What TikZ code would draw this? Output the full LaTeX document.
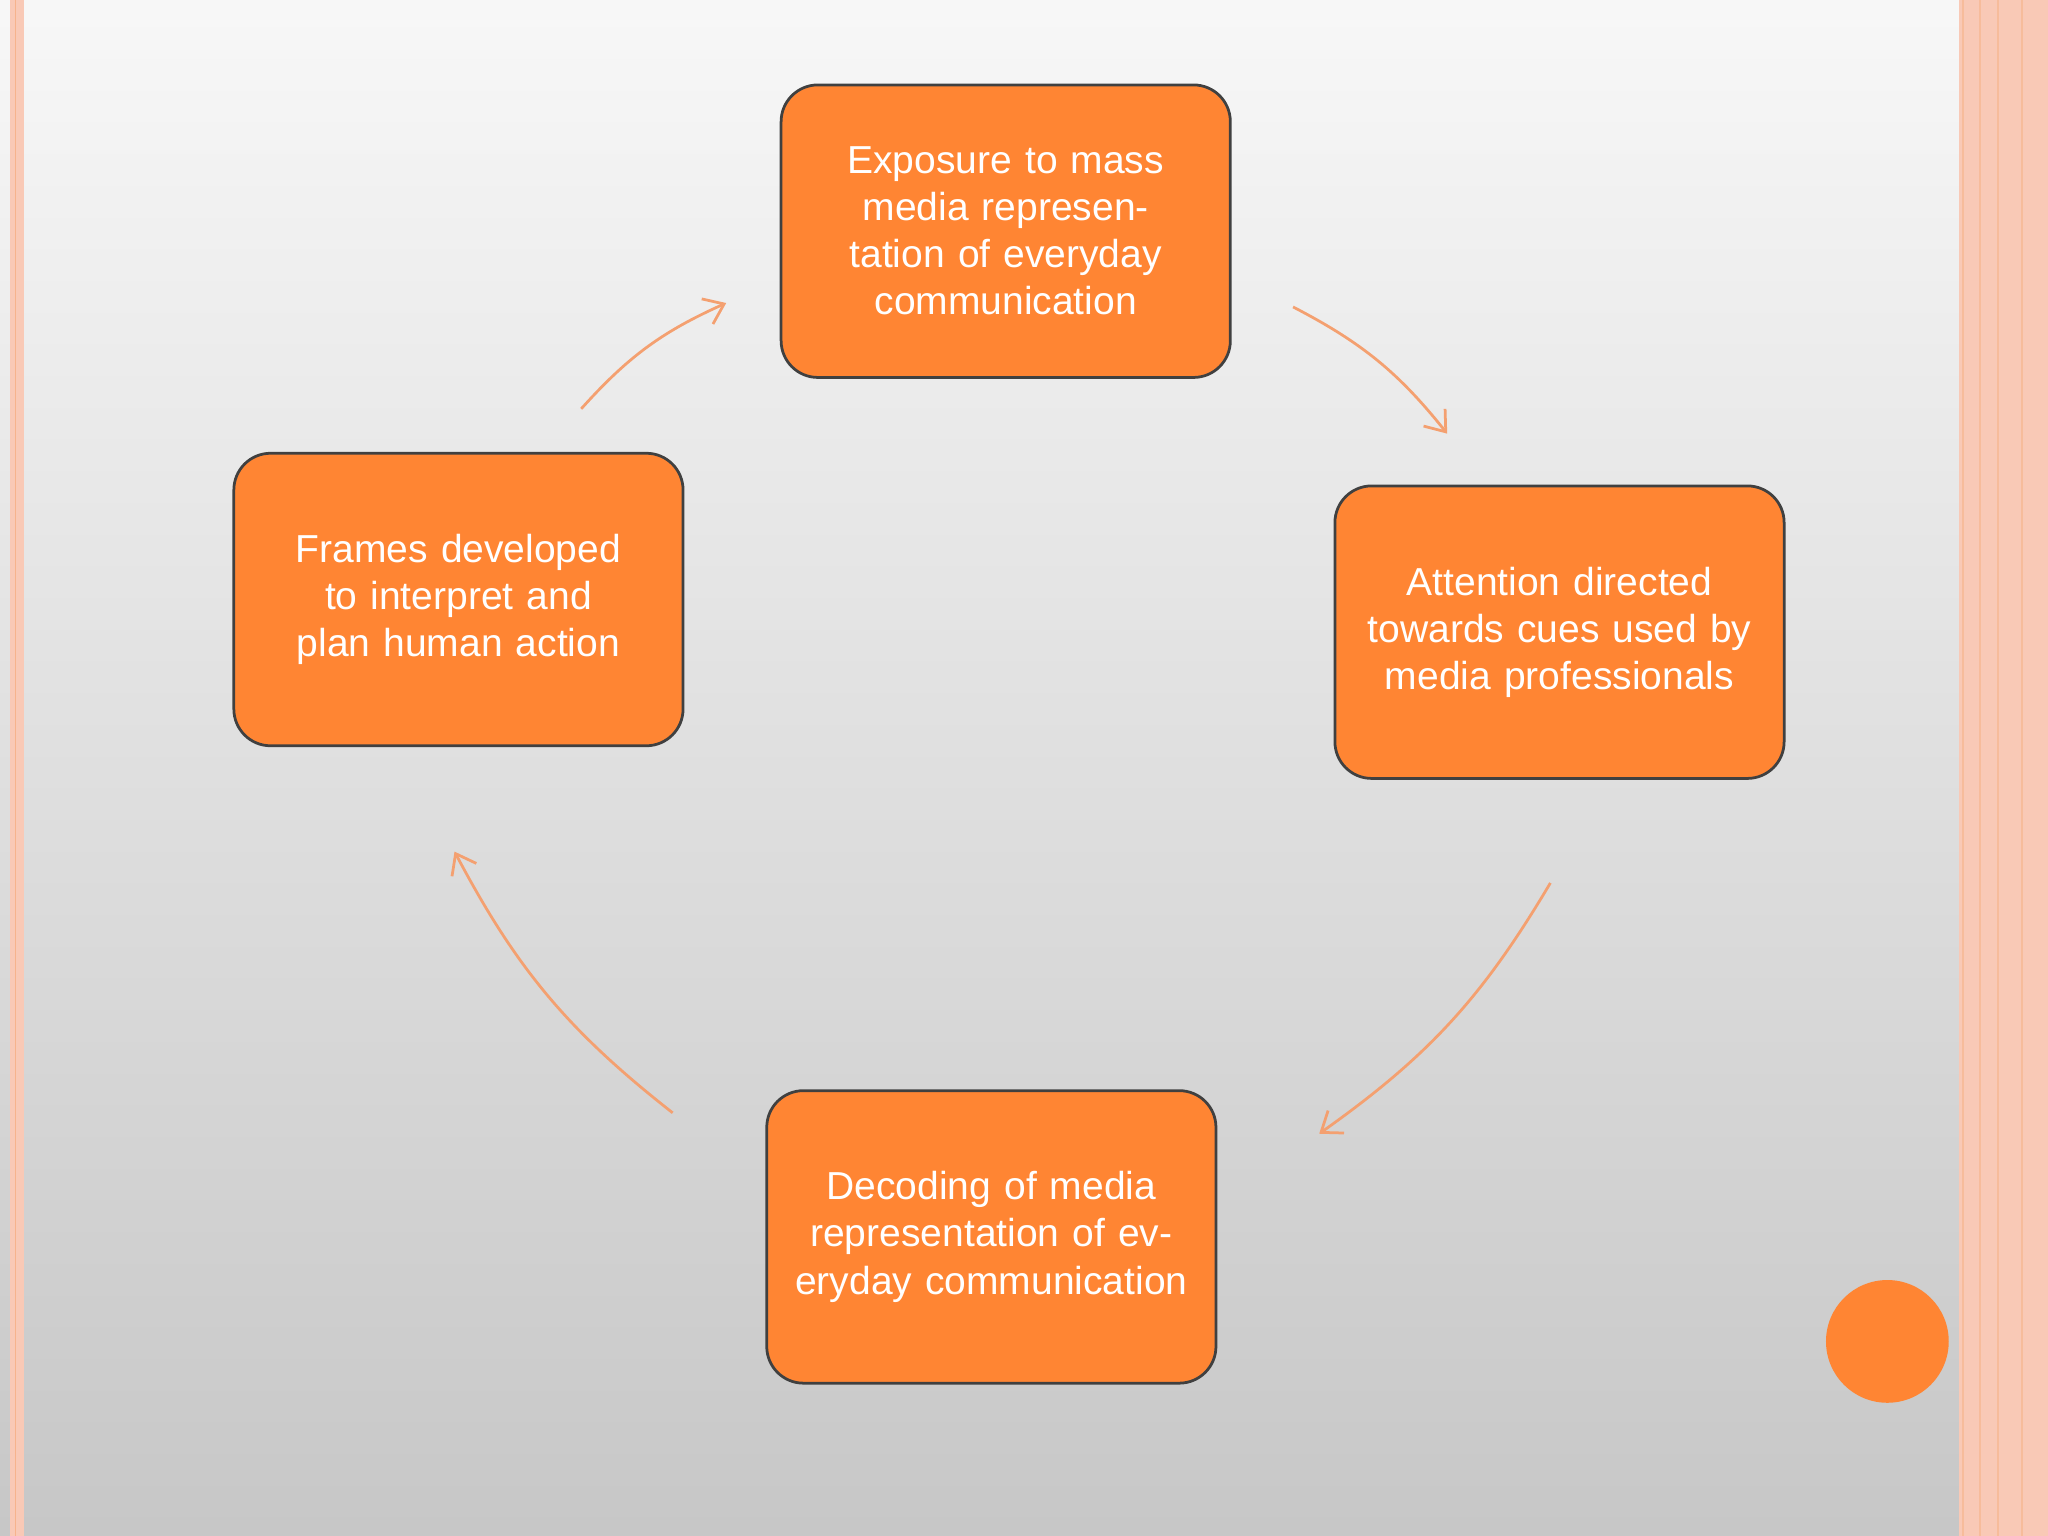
\documentclass[tikz,border=0pt]{standalone}
\usepackage{fontspec}
\setmainfont{Liberation Sans}
\usetikzlibrary{arrows.meta}
\definecolor{boxor}{HTML}{FF8533}
\definecolor{arr}{HTML}{F4A070}
\definecolor{stripe}{HTML}{F9C9B6}
\tikzset{
 box/.style={draw=black!75,line width=1.2pt,fill=boxor,rounded corners=16pt,minimum width=6.88cm,minimum height=4.48cm,text width=6.2cm,align=center,text=white,font=\fontsize{17}{20.5}\selectfont},
 flow/.style={draw=arr,line width=1.2pt,-{Straight Barb[length=8pt,width=12pt]}}
}
\begin{document}
\begin{tikzpicture}[x=0.02cm,y=-0.02cm]
\useasboundingbox (0,0) rectangle (1568,1176);
\shade[top color=white!97!black,bottom color=black!22] (0,0) rectangle (1568,1176);
\fill[stripe] (8,0) rectangle (18,1176);
\draw[arr!80,line width=0.6pt] (12,0) -- (12,1176);
\fill[stripe] (1500,0) rectangle (1568,1176);
\foreach \x in {1503,1516,1530,1548}{\draw[arr!70,line width=0.8pt] (\x,0) -- (\x,1176);}
\node[box] (t) at (770,177) {Exposure to mass media representation of everyday communication};
\node[box] (r) at (1194,484) {Attention directed towards cues used by media professionals};
\node[box] (b) at (759,947) {Decoding of media representation of everyday communication};
\node[box] (l) at (351,459) {Frames developed to interpret and plan human action\\[1.2em]};
\coordinate (a1s) at (445,313); \coordinate (a1e) at (556,232);
\coordinate (a2s) at (990,235); \coordinate (a2e) at (1108,332);
\coordinate (a3s) at (1187,676); \coordinate (a3e) at (1010,868);
\coordinate (a4s) at (515,852); \coordinate (a4e) at (348,652);
\draw[flow] (a1s) to[bend left=12] (a1e);
\draw[flow] (a2s) to[bend left=12] (a2e);
\draw[flow] (a3s) to[bend left=12] (a3e);
\draw[flow] (a4s) to[bend left=12] (a4e);
\node[circle,fill=boxor,minimum size=1.88cm,inner sep=0] (c) at (1445,1027) {};
\end{tikzpicture}
\end{document}
